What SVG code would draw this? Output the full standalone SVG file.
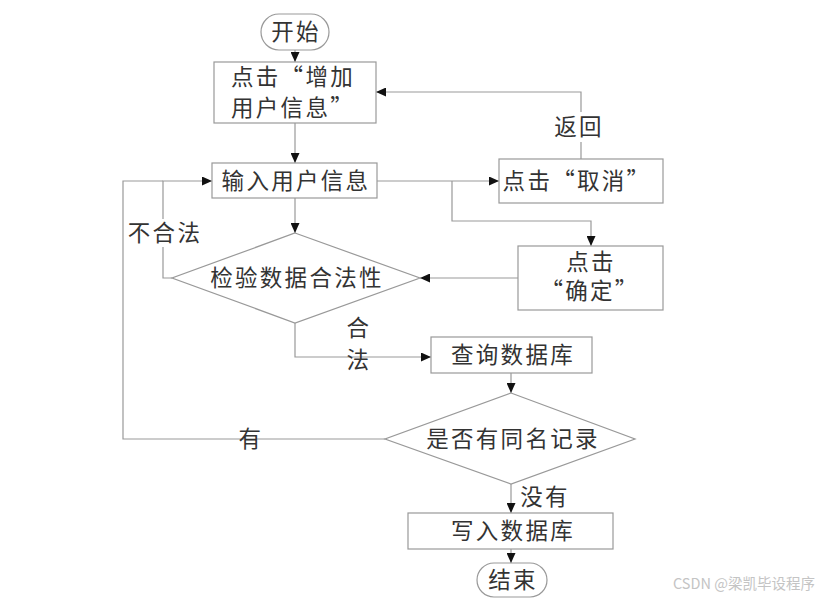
<svg xmlns="http://www.w3.org/2000/svg" width="833" height="601" viewBox="0 0 833 601">
<defs>
<marker id="arr" markerUnits="userSpaceOnUse" markerWidth="10" markerHeight="9" refX="10" refY="4.5" orient="auto">
<path d="M0,0 L10,4.5 L0,9 z" fill="#111"/>
</marker>
<style>
.shape{fill:#fff;stroke:#999;stroke-width:1.2}
.t{font-family:"Noto Sans CJK SC","Liberation Serif",serif;font-size:22.5px;fill:#333;letter-spacing:2.3px}
.c{text-anchor:middle;dominant-baseline:central}
.ln{fill:none;stroke:#999;stroke-width:1.2}
.ar{marker-end:url(#arr)}
.wm{font-family:"Noto Sans CJK SC","Liberation Sans",sans-serif;font-size:14.5px;fill:#c4c4c4}
</style>
</defs>
<rect width="833" height="601" fill="#fff"/>
<g id="connectors">
<path class="ln ar" d="M295,50 V62"/>
<path class="ln ar" d="M295,123 V163"/>
<path class="ln ar" d="M295,198 V233"/>
<path class="ln ar" d="M377,181 H499"/>
<path class="ln ar" d="M452,181 V221 H591 V246"/>
<path class="ln ar" d="M581,159 V92 H376"/>
<path class="ln ar" d="M518,278 H420"/>
<path class="ln ar" d="M172,278 H163 V181 H212"/>
<path class="ln ar" d="M295,323 V357 H431"/>
<path class="ln ar" d="M511,373 V393"/>
<path class="ln" d="M385,439 H123 V181 H163"/>
<path class="ln ar" d="M511,484 V513"/>
<path class="ln ar" d="M511,549 V563"/>
<rect x="124" y="219" width="82" height="28" fill="#fff"/>
<text class="t c" x="165" y="231">不合法</text>
<rect x="551" y="112" width="54" height="30" fill="#fff"/>
<text class="t c" x="579" y="125">返回</text>
<text class="t c" x="359" y="326">合</text>
<text class="t c" x="359" y="358">法</text>
<text class="t c" x="251" y="437">有</text>
<text class="t c" x="545" y="495">没有</text>
</g>
<g id="start">
<rect class="shape" x="261" y="14" width="68" height="36" rx="18"/>
<text class="t c" x="296" y="30">开始</text>
</g>
<g id="click-add">
<rect class="shape" x="214" y="62" width="162" height="61"/>
<text class="t" x="231" y="75" dominant-baseline="central">点击“增加</text>
<text class="t" x="231" y="106" dominant-baseline="central">用户信息”</text>
</g>
<g id="input-info">
<rect class="shape" x="212" y="163" width="165" height="35"/>
<text class="t c" x="296" y="179">输入用户信息</text>
</g>
<g id="click-cancel">
<rect class="shape" x="499" y="159" width="164" height="44"/>
<text class="t c" x="577" y="179">点击“取消”</text>
</g>
<g id="click-confirm">
<rect class="shape" x="518" y="246" width="145" height="64"/>
<text class="t c" x="591" y="260">点击</text>
<text class="t c" x="590" y="289">“确定”</text>
</g>
<g id="check-valid">
<polygon class="shape" points="295,233 420,278 295,323 172,278"/>
<text class="t c" x="297" y="276">检验数据合法性</text>
</g>
<g id="query-db">
<rect class="shape" x="431" y="337" width="161" height="36"/>
<text class="t c" x="513" y="353">查询数据库</text>
</g>
<g id="same-name">
<polygon class="shape" points="511,393 635,439 511,484 385,439"/>
<text class="t c" x="513" y="437">是否有同名记录</text>
</g>
<g id="write-db">
<rect class="shape" x="408" y="513" width="205" height="36"/>
<text class="t c" x="513" y="529">写入数据库</text>
</g>
<g id="end">
<rect class="shape" x="477" y="563" width="70" height="34" rx="17"/>
<text class="t c" x="513" y="578">结束</text>
</g>
<text class="wm" x="673" y="589">CSDN @梁凯毕设程序</text>
</svg>
